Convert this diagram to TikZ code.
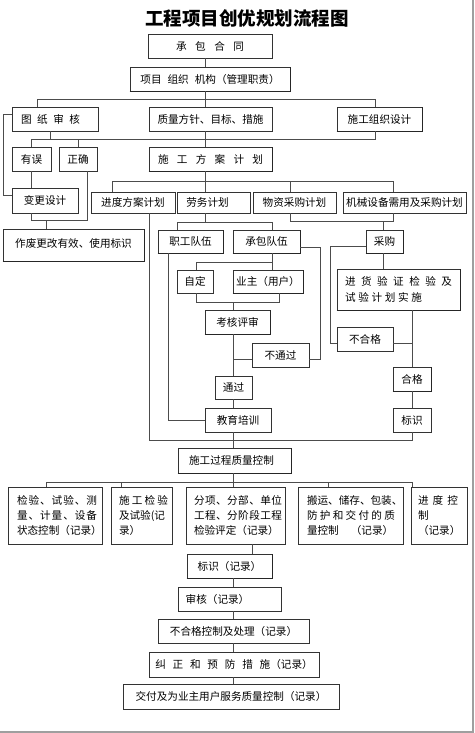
\documentclass[tikz,border=0pt]{standalone}
\usepackage{fontspec}
\setmainfont{Noto Sans CJK SC}
\newcommand\jst[2]{\leavevmode\hbox to #1pt{\jsti#2\relax}}
\def\jsti#1{\ifx#1\relax\else#1\expandafter\jstii\fi}
\def\jstii#1{\ifx#1\relax\else\hfil#1\expandafter\jstii\fi}
\newcommand\mybox[7][]{\node[bx,#1,minimum width={(#4)-(#2)},minimum height={(#5)-(#3)}] (#6) at ({((#2)+(#4))/2},{((#3)+(#5))/2}) {#7};}
\tikzset{
  bx/.style={draw=black!80, line width=0.8pt, inner sep=0pt, text=black,
    font=\fontsize{10.6}{16}\selectfont},
  bt/.style={align=left, font=\fontsize{10.6}{15}\selectfont},
  ln/.style={draw=black!70, line width=0.9pt},
  shd/.style={draw=black!85, line width=1.6pt}
}
\begin{document}
\begin{tikzpicture}[x=1pt,y=-1pt]
\useasboundingbox (0,0) rectangle (474,733);
\draw[gray!75, line width=2pt] (472.5,0) -- (472.5,733);
\draw[gray!75, line width=2pt] (0,732) -- (474,732);
% helper coordinates
\foreach \v in {3,31,37,46,50,78,87,112,121,149,168,177,196,205,233,252,272,279,290,320,328,330,375,383,393,412}
  \coordinate (c\v) at (\v,0);
\foreach \v in {99,114,139,181,195,220,221,222,246,247,262,302,343,359,440,482}
  \coordinate (y\v) at (0,\v);

\node[font=\fontsize{18.5}{20}\selectfont\bfseries, text=black] (title) at (247,18) {工程项目创优规划流程图};

\mybox{148}{34}{272}{58}{ht}{\jst{68}{承包合同}}
\mybox{130}{67}{290}{91}{xm}{项目\hspace{6pt}组织\hspace{6pt}机构（管理职责）}
\mybox{12}{107}{98}{131}{tz}{\jst{59}{图纸审核}\hspace*{9pt}}
\mybox{149}{107}{272}{131}{zl}{质量方针、目标、措施}
\mybox{337}{107}{422}{131}{sz}{施工组织设计}
\mybox{12}{147}{51}{171}{yw}{有误}
\mybox{59}{147}{97}{171}{zq}{正确}
\mybox{149}{147}{272}{171}{fa}{\jst{105}{施工方案计划}}
\mybox{12}{188}{78}{213}{bg}{变更设计}
\mybox{3}{229}{144}{261}{zf}{\raisebox{3pt}{作废更改有效、使用标识}}
\mybox{91}{192}{175}{213}{jd}{进度方案计划}
\mybox{177}{192}{250}{213}{lw}{劳务计划\hspace*{12pt}}
\mybox{253}{192}{336}{213}{wz}{物资采购计划}
\mybox{343}{192}{466}{213}{jx}{机械设备需用及采购计划}
\mybox{158}{230}{223}{253}{zg}{职工队伍}
\mybox{233}{230}{300}{253}{cb}{承包队伍}
\mybox{366}{230}{403}{253}{cg}{采购}
\mybox{177}{270}{213}{293}{zd}{自定}
\mybox{233}{270}{303}{293}{yz}{业主（用户）}
\mybox{205}{310}{270}{334}{kh}{考核评审}
\mybox{252}{343}{309}{367}{btg}{不通过}
\mybox{215}{376}{252}{399}{tg}{通过}
\mybox{205}{408}{271}{432}{jy}{教育培训}
\mybox[align=left]{337}{269}{460}{310}{jh}{\jst{107}{进货验证检验及}\\\jst{77}{试验计划实施}}
\mybox{337}{327}{393}{351}{bhg}{不合格}
\mybox{393}{367}{431}{391}{hg}{合格}
\mybox{393}{408}{431}{432}{bs}{标识}
\mybox{178}{448}{291}{473}{gc}{施工过程质量控制\hspace*{6pt}}
\mybox[bt,text width=76pt]{8}{487}{102}{544}{b1}{\jst{80}{检验、试验、测}\\\jst{80}{量、计量、设备}\\状态控制（记录）}
\mybox[bt,text width=45pt]{111}{487}{172}{544}{b2}{\jst{49}{施工检验}\\及试验(记\\录）}
\mybox[bt,text width=83pt]{186}{487}{285}{544}{b3}{\jst{88}{分项、分部、单位}\\\jst{88}{工程、分阶段工程}\\检验评定（记录）}
\mybox[bt,text width=87pt]{298}{487}{403}{544}{b4}{搬运、储存、包装、\\\jst{88}{防护和交付的质}\\量控制\hspace{12pt}（记录）}
\mybox[bt,text width=42pt]{411}{487}{467}{544}{b5}{\jst{40}{进度控}\\制\\（记录）}
\mybox{187}{554}{272}{578}{bj}{标识（记录）}
\mybox{178}{587}{281}{611}{sh}{审核（记录）\hspace*{24pt}}
\mybox{158}{619}{309}{643}{bhc}{不合格控制及处理（记录）}
\mybox{149}{652}{319}{677}{jz}{\jst{115}{纠正和预防措施}（记录）}
\mybox{123}{684}{339}{709}{jf}{交付及为业主用户服务质量控制（记录）}

\foreach \n in {xm,sz,fa,zf,zg,cb,yz,kh,cg,jh,hg,gc,bj}
  \draw[shd] (\n.south west) -- (\n.south east) -- (\n.north east);

% connectors
\draw[ln] (ht.south -| c205) -- (xm.north -| c205);
\draw[ln] (xm.south -| c205) -- (zl.north -| c205);
\draw[ln] (tz.north -| c37) -- (y99 -| c37) -- (y99 -| c375) -- (sz.north -| c375);
\draw[ln] (sz.south -| c375) -- (y139 -| c375) -- (y139 -| c31) -- (yw.north -| c31);
\draw[ln] (tz.south -| c50) -- (y139 -| c50);
\draw[ln] (y139 -| c78) -- (zq.north -| c78);
\draw[ln] (zl.south -| c205) -- (fa.north -| c205);
\draw[ln] (tz.west |- y114) -- (y114 -| c3) -- (y195 -| c3) -- (bg.west |- y195);
\draw[ln] (yw.south -| c31) -- (bg.north -| c31);
\draw[ln] (zq.south -| c87) -- (y220 -| c87) -- (y220 -| c31) -- (bg.south -| c31);
\draw[ln] (y220 -| c46) -- (zf.north -| c46);
\draw[ln] (fa.south -| c205) -- (lw.north -| c205);
\draw[ln] (jd.north -| c112) -- (y181 -| c112) -- (y181 -| c393) -- (jx.north -| c393);
\draw[ln] (y181 -| c290) -- (wz.north -| c290);
\draw[ln] (wz.south -| c290) -- (y221 -| c290) -- (y221 -| c393) -- (jx.south -| c393);
\draw[ln] (y221 -| c383) -- (cg.north -| c383);
\draw[ln] (lw.south -| c205) -- (y222 -| c205);
\draw[ln] (zg.north -| c177) -- (y222 -| c177) -- (y222 -| c272) -- (cb.north -| c272);
\draw[ln] (jd.south -| c149) -- (y440 -| c149) -- (y440 -| c412) -- (bs.south -| c412);
\draw[ln] (jy.south -| c233) -- (gc.north -| c233);
\draw[ln] (zg.south -| c168) |- (jy.west);
\draw[ln] (cb.east |- y247) -- (y247 -| c320) -- (y359 -| c320) -- (btg.east |- y359);
\draw[ln] (cb.south -| c272) -- (yz.north -| c272);
\draw[ln] (y262 -| c272) -- (y262 -| c196) -- (zd.north -| c196);
\draw[ln] (zd.south -| c196) -- (y302 -| c196) -- (y302 -| c279) -- (yz.south -| c279);
\draw[ln] (y302 -| c233) -- (kh.north -| c233);
\draw[ln] (kh.south -| c233) -- (tg.north -| c233);
\draw[ln] (y359 -| c233) -- (btg.west |- y359);
\draw[ln] (tg.south -| c233) -- (jy.north -| c233);
\draw[ln] (cg.south -| c383) -- (jh.north -| c383);
\draw[ln] (cg.west |- y246) -- (y246 -| c330) -- (y343 -| c330) -- (bhg.west |- y343);
\draw[ln] (jh.south -| c412) -- (hg.north -| c412);
\draw[ln] (bhg.east |- y343) -- (y343 -| c412);
\draw[ln] (hg.south -| c412) -- (bs.north -| c412);
\draw[ln] (gc.south -| c233) -- (b3.north -| c233);
\draw[ln] (b1.north -| c46) -- (y482 -| c46) -- (y482 -| c412) -- (b5.north -| c412);
\draw[ln] (y482 -| c121) -- (b2.north -| c121);
\draw[ln] (y482 -| c328) -- (b4.north -| c328);
\draw[ln] (b3.south -| c252) -- (bj.north -| c252);
\draw[ln] (bj.south -| c233) -- (sh.north -| c233);
\draw[ln] (sh.south -| c233) -- (bhc.north -| c233);
\draw[ln] (bhc.south -| c233) -- (jz.north -| c233);
\draw[ln] (jz.south -| c233) -- (jf.north -| c233);
\end{tikzpicture}
\end{document}
